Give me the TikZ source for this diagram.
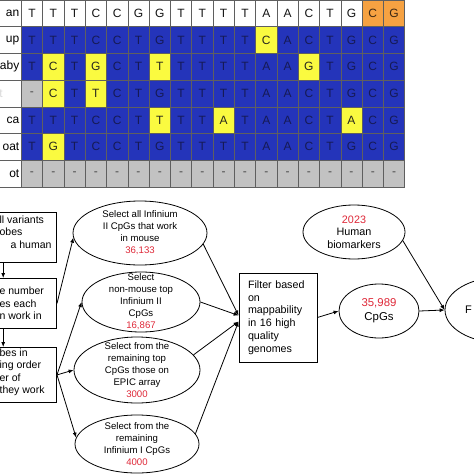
\documentclass[tikz,border=0pt]{standalone}
\usepackage{fontspec}
\setmainfont{Liberation Sans}
\usetikzlibrary{shapes.geometric,arrows.meta}

\definecolor{cb}{RGB}{36,52,186}
\definecolor{cy}{RGB}{250,250,64}
\definecolor{cg}{RGB}{194,194,194}
\definecolor{cw}{RGB}{255,255,255}
\definecolor{co}{RGB}{246,162,66}
\definecolor{tb}{RGB}{22,26,84}
\definecolor{ty}{RGB}{40,40,30}
\definecolor{tg}{RGB}{70,70,70}
\definecolor{tw}{RGB}{20,20,20}
\definecolor{to}{RGB}{60,40,20}
\definecolor{gridgray}{RGB}{95,95,95}
\definecolor{numred}{RGB}{222,40,56}

\newcommand{\num}[1]{\textcolor{numred}{#1}}
\newcommand{\cuttext}[3]{\parbox[c][#1][#2]{52pt}{\raggedright #3}}

\begin{document}
\begin{tikzpicture}[x=1pt,y=-1pt,
    cell/.style={draw=gridgray, line width=0.6pt, minimum width=21.3pt, minimum height=26.7pt, inner sep=0pt, font=\fontsize{12}{12}\selectfont},
    lab/.style={anchor=east, inner sep=0pt, font=\fontsize{12}{12}\selectfont},
    oval/.style={ellipse, draw, line width=0.8pt, inner sep=-9pt, align=center, font=\fontsize{9.6}{12}\selectfont},
    box/.style={draw, line width=0.8pt, inner xsep=5pt, inner ysep=3pt, font=\fontsize{10.5}{12.5}\selectfont},
    arr/.style={-{Latex[length=5pt,width=4pt]}, line width=0.8pt}]
  \useasboundingbox (0,0) rectangle (474,474);

  % alignment table
  \foreach \row [count=\r from 0] in {
      {T/w,T/w,T/w,C/w,C/w,G/w,G/w,T/w,T/w,T/w,T/w,A/w,A/w,C/w,T/w,G/w,C/o,G/o},
      {T/b,T/b,T/b,C/b,C/b,T/b,G/b,T/b,T/b,T/b,T/b,C/y,A/b,C/b,T/b,G/b,C/b,G/b},
      {T/b,C/y,T/b,G/y,C/b,T/b,T/y,T/b,T/b,T/b,T/b,A/b,A/b,G/y,T/b,G/b,C/b,G/b},
      {-/g,C/y,T/b,T/y,C/b,T/b,G/b,T/b,T/b,T/b,T/b,A/b,A/b,C/b,T/b,G/b,C/b,G/b},
      {T/b,T/b,T/b,C/b,C/b,T/b,T/y,T/b,T/b,A/y,T/b,A/b,A/b,C/b,T/b,A/y,C/b,G/b},
      {T/b,G/y,T/b,C/b,C/b,T/b,G/b,T/b,T/b,T/b,T/b,A/b,A/b,C/b,T/b,G/b,C/b,G/b},
      {-/g,-/g,-/g,-/g,-/g,-/g,-/g,-/g,-/g,-/g,-/g,-/g,-/g,-/g,-/g,-/g,-/g,-/g}} {
    \foreach \ch/\cl [count=\c] in \row
      \node[cell, fill=c\cl, text=t\cl] (s\r-\c) at (21.3*\c+10.65, 26.7*\r+13.35) {\ch};
  }
  \draw[gridgray, line width=0.6pt] (-1,0) rectangle (21.3,186.9);
  \foreach \r in {1,...,6}
    \draw[gridgray, line width=0.6pt] (-1,26.7*\r) -- (21.3,26.7*\r);
  \node[lab] (l0) at (19.5,13.35) {an};
  \node[lab] (l1) at (19.5,40.05) {up};
  \node[lab] (l2) at (19.5,66.75) {aby};
  \node[lab, text=black!15] (l3) at (3,93.45) {t};
  \node[lab] (l4) at (19.5,120.15) {ca};
  \node[lab] (l5) at (19.5,146.85) {oat};
  \node[lab] (l6) at (19.5,173.55) {ot};

  % flow chart
  \node[box, anchor=north east] (k1) at (57,212) {\cuttext{44pt}{t}{ll variants\\obes\\\hspace*{11pt}a human}};
  \node[box, anchor=north east] (k2) at (57,278) {\cuttext{44pt}{c}{e number\\es each\\n work in}};
  \node[box, anchor=north east, inner ysep=1pt] (k3) at (57,347) {\cuttext{53pt}{t}{bes in\\ing order\\er of\\they work}};

  \node[oval, minimum width=134pt, minimum height=64pt] (e1) at (140,233) {Select all Infinium\\II CpGs that work\\in mouse\\\num{36,133}};
  \node[oval, minimum width=118pt, minimum height=60pt] (e2) at (141,302) {Select\\non-mouse top\\Infinium II\\CpGs\\\num{16,867}};
  \node[oval, minimum width=126pt, minimum height=66pt] (e3) at (137,370) {Select from the\\remaining top\\CpGs those on\\EPIC array\\\num{3000}};
  \node[oval, minimum width=124pt, minimum height=58pt] (e4) at (137,444) {Select from the\\remaining\\Infinium I CpGs\\\num{4000}};

  \node[box, minimum width=78pt, minimum height=89pt, text width=60pt, align=left, inner xsep=9pt, font=\fontsize{10.7}{12.8}\selectfont] (f) at (278,317.5) {Filter based\\on\\mappability\\in 16 high\\quality\\genomes};

  \node[oval, minimum width=102pt, minimum height=54pt, font=\fontsize{10.8}{12.5}\selectfont] (e5) at (354,232) {\num{2023}\\Human\\biomarkers};
  \node[oval, minimum width=80pt, minimum height=54pt, font=\fontsize{11.4}{14}\selectfont] (e6) at (379,311) {\num{35,989}\\CpGs};
  \node[oval, minimum width=114pt, minimum height=66pt] (e7) at (502,310) {};
  \node[anchor=west, inner sep=0pt, font=\fontsize{11}{11}\selectfont] (e7t) at (465,310) {F};

  \draw[arr] ([xshift=9pt]k1.south west) -- ([xshift=9pt]k2.north west);
  \draw[arr] ([xshift=9pt]k2.south west) -- ([xshift=9pt]k3.north west);
  \draw[arr] (k2.east) -- (e1.184);
  \draw[arr] (k3.east) -- (e2.west);
  \draw[arr] (k3.east) -- (e3.west);
  \draw[arr] (k3.east) -- (e4.174);
  \draw[arr] (e1.350) -- ([yshift=2pt]f.west);
  \draw[arr] (e2.east) -- ([yshift=2pt]f.west);
  \draw[arr] (e3.15) -- ([yshift=-4pt]f.west);
  \draw[arr] (e4.10) -- ([yshift=-4pt]f.west);
  \draw[arr] (f.east) -- (e6.west);
  \draw[arr] (e6.east) -- (e7.west);
  \draw[arr] (e5.350) -- (e7.west);
\end{tikzpicture}
\end{document}
